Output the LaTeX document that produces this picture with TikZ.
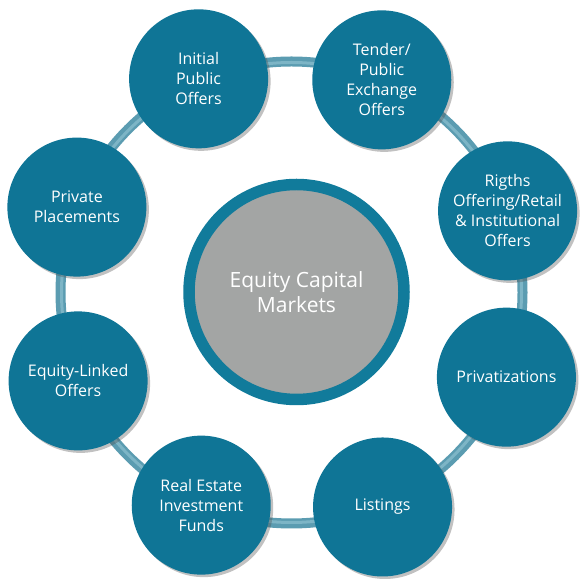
\documentclass[tikz,border=0pt]{standalone}
\usepackage{fontspec}
\setmainfont{Open Sans}
\usetikzlibrary{shadows}
\definecolor{petalfill}{HTML}{0F7596}
\definecolor{hubfill}{HTML}{A3A5A4}
\definecolor{hubrim}{HTML}{117B9B}
\definecolor{ringblue}{HTML}{5B9CB1}
\definecolor{ringlite}{HTML}{7DB5C6}
\tikzset{
  ring/.style={draw=ringblue, line width=10pt},
  ringhi/.style={draw=ringlite, line width=3pt},
  petal/.style={circle, fill=petalfill, minimum size=139pt, inner sep=0pt, align=center, text=white,
    font=\fontsize{16}{20}\selectfont,
    drop shadow={shadow xshift=2.5pt, shadow yshift=-2.5pt, opacity=0.35, fill=black!70}},
  hub/.style={circle, fill=hubfill, draw=hubrim, line width=11.5pt, minimum size=215pt, inner sep=0pt,
    align=center, text=white, font=\fontsize{21}{25}\selectfont,
    drop shadow={shadow xshift=2.5pt, shadow yshift=-2.5pt, opacity=0.35, fill=black!70}},
}
\begin{document}
\begin{tikzpicture}[x=1pt,y=1pt]
  \useasboundingbox (0,0) rectangle (585,585);
  \coordinate (ctr) at (291.500,292.500);
  \draw[ring] (ctr) circle[radius=231];
  \draw[ringhi] (ctr) circle[radius=230];
  \node[hub] (ecm) at (296.500,293.000) {Equity Capital\\Markets};
  \path (ctr) ++(113.5:233) node[petal] (ipo) {Initial\\Public\\Offers};
  \path (ctr) ++(67:231) node[petal] (tpe) {Tender/\\Public\\Exchange\\Offers};
  \path (ctr) ++(20.7:231) node[petal] (rgt) {Rigths\\Offering/Retail\\\& Institutional\\Offers};
  \path (ctr) ++(-21.5:231) node[petal] (prv) {Privatizations};
  \path (ctr) ++(-67:233) node[petal] (lst) {Listings};
  \path (ctr) ++(-113:231) node[petal] (ref) {Real Estate\\Investment\\Funds};
  \path (ctr) ++(-157.5:231) node[petal] (eqo) {Equity-Linked\\Offers};
  \path (ctr) ++(158.3:231) node[petal] (ppl) {Private\\Placements};
\end{tikzpicture}
\end{document}
